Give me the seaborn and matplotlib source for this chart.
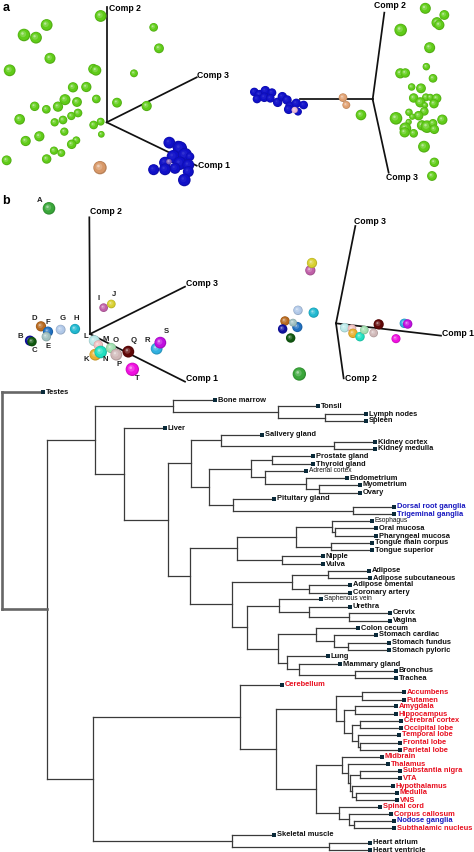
import matplotlib
matplotlib.use("Agg")
import matplotlib.pyplot as plt
import pandas as pd
import seaborn as sns

W, H = 474, 852

# panel a, left view
a1_green_x = [302,140,72,108,461,477,150,29,280,288,402,219,259,195,231,289,351,104,174,139,440,59,234,214,189,164,302,281,193,304,118,77,229,215,162,184,140,20]
a1_green_y = [48,75,105,113,82,145,175,211,207,211,220,262,261,299,306,297,308,319,320,328,318,358,339,348,360,367,365,375,395,403,409,423,421,433,452,459,477,481]
a1_green_d = [30,30,32,30,22,25,28,30,26,27,20,26,26,28,25,22,25,24,26,22,26,27,22,21,22,21,20,22,21,17,26,26,20,24,21,20,24,25]
a1_orange_x = [300]
a1_orange_y = [503]
a1_orange_d = [34]
a1_blue_x = [508,535,540,520,555,495,540,570,565,525,495,461,565,553]
a1_blue_y = [428,440,445,470,465,488,490,470,495,505,508,509,515,540]
a1_blue_d = [30,30,36,34,36,30,34,22,30,28,30,28,28,32]
a1_pink_x = [507]
a1_pink_y = [485]
a1_pink_d = [14]

# panel a, right view
a2_green_x = [565,622,600,607,491,578,568,490,505,588,524,552,530,567,580,599,550,591,564,562,516,545,526,477,616,515,555,570,588,505,503,592,530,561,592,585,372]
a2_green_y = [25,45,68,75,90,143,200,220,219,235,261,265,294,292,292,295,307,311,316,334,337,347,350,355,359,366,376,380,370,385,397,388,400,440,487,528,345]
a2_green_d = [28,25,28,26,32,28,19,26,24,22,19,25,24,20,18,24,26,24,16,22,19,24,16,32,26,16,26,32,22,30,26,24,22,30,24,25,27]
a2_orange_x = [318,328]
a2_orange_y = [293,315]
a2_orange_d = [22,20]
a2_blue_x = [52,68,85,105,60,82,100,122,136,150,160,155,178,200,183]
a2_blue_y = [276,285,272,278,297,292,295,307,290,300,320,328,310,315,335]
a2_blue_d = [22,26,24,22,22,24,22,24,24,24,26,24,24,22,20]
a2_pink_x = [173]
a2_pink_y = [330]
a2_pink_d = [16]

# panel b, one sphere per sample group
b_colors = ["#3aa63a","#c060a8","#d8d030","#b86a20","#2070c0","#a0c0c0","#b0c8e8","#20b8d0","#1010a0","#105810",
            "#b8e8e8","#f0c0c0","#e8b030","#20e0c0","#a0e0b0","#d0b8b8","#600808","#30b0e0","#c010e0","#f010e0"]
b1_x = [147,311,334,123,144,139,182,225,90,96,283,295,286,302,333,349,385,470,481,397]
b1_y = [55,353,342,409,425,440,419,417,452,455,452,465,494,486,474,494,485,476,458,538]
b1_d = [32,22,22,26,26,24,25,26,26,24,28,24,30,32,26,30,30,30,30,34]
b2_x = [187,220,225,144,181,168,183,230,137,161,323,345,348,369,382,410,425,502,512,477]
b2_y = [552,241,219,393,411,398,361,368,417,444,413,416,430,440,420,429,403,400,402,446]
b2_d = [34,26,26,24,26,20,24,26,24,24,24,22,24,24,22,22,26,24,24,23]

letter_names = ["A","I","J","D","F","E","G","H","B","C","L","M","O","Q","R","S","K","N","P","T"]
letter_x = [118,296,343,103,143,144,189,230,60,103,257,316,348,400,442,500,259,315,357,413]
letter_y = [32,327,313,385,397,468,385,385,439,482,438,449,450,452,452,425,509,509,523,566]

# dendrogram leaves
leaf_names = ["Testes","Bone marrow","Tonsil","Lymph nodes","Spleen","Liver","Salivery gland","Kidney cortex","Kidney medulla",
    "Prostate gland","Thyroid gland","Adrenal cortex","Endometrium","Myometrium","Ovary","Pituitary gland",
    "Dorsal root ganglia","Trigeminal ganglia","Esophagus","Oral mucosa","Pharyngeal mucosa","Tongue main corpus",
    "Tongue superior","Nipple","Vulva","Adipose","Adipose subcutaneous","Adipose omental","Coronary artery",
    "Saphenous vein","Urethra","Cervix","Vagina","Colon cecum","Stomach cardiac","Stomach fundus","Stomach pyloric",
    "Lung","Mammary gland","Bronchus","Trachea","Cerebellum","Accumbens","Putamen","Amygdala","Hippocampus",
    "Cerebral cortex","Occipital lobe","Temporal lobe","Frontal lobe","Parietal lobe","Midbrain","Thalamus",
    "Substantia nigra","VTA","Hypothalamus","Medulla","VNS","Spinal cord","Corpus callosum","Nodose ganglia",
    "Subthalamic nucleus","Skeletal muscle","Heart atrium","Heart ventricle"]
leaf_x = [43,215,318,366,366,165,262,375,375,313,313,306,347,360,360,274,394,394,372,376,376,372,372,323,323,369,370,350,350,
    321,350,390,390,358,376,389,389,328,340,396,396,282,404,404,396,396,401,401,399,400,400,382,388,400,400,393,397,397,380,391,394,394,274,370,370]
leaf_y = [392,400,406,414,421,428,435,442,449,456,464,471,478,485,493,499,507,514,521,528,536,543,550,556,564,571,578,585,593,
    599,607,613,621,628,635,643,650,656,664,671,678,685,692,700,706,714,721,728,735,743,750,757,764,771,778,786,793,800,807,814,821,828,835,843,850]

red_labels = ["Cerebellum","Accumbens","Putamen","Amygdala","Hippocampus","Cerebral cortex","Occipital lobe","Temporal lobe",
    "Frontal lobe","Parietal lobe","Midbrain","Thalamus","Substantia nigra","VTA","Hypothalamus","Medulla","VNS",
    "Spinal cord","Corpus callosum","Subthalamic nucleus"]
blue_labels = ["Dorsal root ganglia","Trigeminal ganglia","Nodose ganglia"]
thin_labels = ["Adrenal cortex","Esophagus","Saphenous vein"]

# clades: (x of the joining branch, upper child, lower child)
lymphoid = (173.5, "Bone marrow", (278.5, "Tonsil", (325, "Lymph nodes", "Spleen")))
secretory = (221, "Salivery gland", (334, "Kidney cortex", "Kidney medulla"))
repro = (251, (272, "Prostate gland", "Thyroid gland"),
         (265, "Adrenal cortex", (306, "Endometrium", (319, "Myometrium", "Ovary"))))
ganglia = (233.5, "Pituitary gland", (353, "Dorsal root ganglia", "Trigeminal ganglia"))
glands = (191, secretory, (209, repro, ganglia))
oral = (296, (332, "Esophagus", (335, "Oral mucosa", "Pharyngeal mucosa")), (331, "Tongue main corpus", "Tongue superior"))
epithelia = (237, oral, (282, "Nipple", "Vulva"))
adipose = (292, (328, "Adipose", "Adipose subcutaneous"), (309.5, "Adipose omental", "Coronary artery"))
urogenital = (279, "Saphenous vein", (309, "Urethra", (349, "Cervix", "Vagina")))
gut = (316.5, "Colon cecum", (334, "Stomach cardiac", (348, "Stomach fundus", "Stomach pyloric")))
airway = (287, "Lung", (299, "Mammary gland", (355, "Bronchus", "Trachea")))
soft = (232.5, adipose, (247, urogenital, (278.5, gut, airway)))
periphery = (95, lymphoid, (124, "Liver", (168, glands, (190.5, epithelia, soft))))
cortex = (336.5, (362.5, "Accumbens", "Putamen"),
          (344.5, (355, "Amygdala", "Hippocampus"),
           (352, (360, "Cerebral cortex", "Occipital lobe"), (358, "Temporal lobe", (360, "Frontal lobe", "Parietal lobe")))))
brainstem = (316, (342, "Midbrain", (348, "Thalamus", (350, (360, "Substantia nigra", "VTA"),
             (352, "Hypothalamus", (356, "Medulla", "VNS"))))),
             (339, "Spinal cord", (349, "Corpus callosum", (354, "Nodose ganglia", "Subthalamic nucleus"))))
brain = (240, "Cerebellum", (276, cortex, brainstem))
muscle = (232.5, "Skeletal muscle", (329.5, "Heart atrium", "Heart ventricle"))
tree = (2, "Testes", (47, periphery, (93, brain, muscle)))


def mix(col, other, t):
    a = matplotlib.colors.to_rgb(col)
    b = matplotlib.colors.to_rgb(other)
    return matplotlib.colors.to_hex([a[i] * (1 - t) + b[i] * t for i in range(3)])


def spheres(ax, xs, ys, ds, cols, shine=1.0):
    # every ball is a few shrinking discs, lit from the upper left
    rows = []
    for x, y, d, c in zip(xs, ys, ds, cols):
        d = d * 1.18
        layers = [(1.0, mix(c, "black", 0.15)), (0.85, c), (0.5, mix(c, "white", 0.2 * shine)), (0.2, mix(c, "white", 0.55 * shine))]
        for k, col in layers:
            off = (1 - k) * d * 0.15
            rows.append({"x": x - off, "y": y - off, "col": col, "area": (k * d / 3 * 0.72) ** 2})
    df = pd.DataFrame(rows)
    sns.scatterplot(data=df, x="x", y="y", hue="col", palette={c: c for c in df["col"].unique()},
                    s=df["area"].to_numpy(), linewidth=0, legend=False, ax=ax, zorder=3)


def spokes(ax, centre, ends):
    for end in ends:
        sns.lineplot(x=[centre[0], end[0]], y=[centre[1], end[1]], color="#111111", lw=1.25,
                     estimator=None, sort=False, ax=ax, zorder=2)


def panel(top, height, left):
    ax = fig.add_axes([left / W, 1 - (top + height) / H, 237 / W, height / H])
    return ax


def finish(ax, height):
    ax.set_xlim(0, 711)
    ax.set_ylim(height * 3, 0)
    ax.axis("off")


def comp(ax, x, y, s):
    ax.text(x, y, s, fontsize=6.2, fontweight="bold", va="center", ha="left", clip_on=False, zorder=5)


plt.rcParams["font.family"] = ["Liberation Sans", "DejaVu Sans"]
fig = plt.figure(figsize=(W / 100, H / 100), dpi=100)

ax = panel(0, 190, 0)
spokes(ax, (320, 367), [(320, 22), (590, 232), (590, 497)])
spheres(ax, a1_green_x, a1_green_y, a1_green_d, ["#60cc18"] * len(a1_green_x))
spheres(ax, a1_orange_x, a1_orange_y, a1_orange_d, ["#d89868"])
spheres(ax, a1_blue_x, a1_blue_y, a1_blue_d, ["#1010c8"] * len(a1_blue_x), shine=0.25)
spheres(ax, a1_pink_x, a1_pink_y, a1_pink_d, ["#8060c0"])
comp(ax, 328, 25, "Comp 2")
comp(ax, 592, 225, "Comp 3")
comp(ax, 594, 498, "Comp 1")
ax.text(8, 25, "a", fontsize=9, fontweight="bold", va="center")
finish(ax, 190)

ax = panel(0, 190, 237)
spokes(ax, (407, 298), [(190, 298), (442, 38), (455, 518)])
spheres(ax, a2_green_x, a2_green_y, a2_green_d, ["#60cc18"] * len(a2_green_x))
spheres(ax, a2_orange_x, a2_orange_y, a2_orange_d, ["#e0a070"] * 2)
spheres(ax, a2_blue_x, a2_blue_y, a2_blue_d, ["#1010c8"] * len(a2_blue_x), shine=0.25)
spheres(ax, a2_pink_x, a2_pink_y, a2_pink_d, ["#e8b8d8"])
comp(ax, 412, 18, "Comp 2")
comp(ax, 446, 532, "Comp 3")
finish(ax, 190)

ax = panel(190, 200, 0)
spokes(ax, (270, 432), [(268, 82), (555, 290), (555, 575)])
spheres(ax, b1_x, b1_y, b1_d, b_colors)
for name, x, y in zip(letter_names, letter_x, letter_y):
    ax.text(x, y, name, fontsize=5.6, fontweight="bold", color="#222222", ha="center", va="center", zorder=5)
comp(ax, 269, 63, "Comp 2")
comp(ax, 557, 282, "Comp 3")
comp(ax, 558, 565, "Comp 1")
ax.text(8, 32, "b", fontsize=9, fontweight="bold", va="center")
finish(ax, 200)

ax = panel(190, 200, 237)
spokes(ax, (297, 400), [(355, 108), (320, 565), (612, 437)])
spheres(ax, b2_x, b2_y, b2_d, b_colors)
comp(ax, 352, 93, "Comp 3")
comp(ax, 616, 429, "Comp 1")
comp(ax, 323, 564, "Comp 2")
finish(ax, 200)

# dendrogram
ax = fig.add_axes([0, 0, 1, 467 / H])
leaves = pd.DataFrame({"name": leaf_names, "x": leaf_x, "y": leaf_y}).set_index("name")
segs = []


def walk(node):
    if isinstance(node, str):
        return leaves.loc[node, "x"], leaves.loc[node, "y"]
    x, upper, lower = node
    xa, ya = walk(upper)
    xb, yb = walk(lower)
    segs.append((x, x, ya, yb, x))
    segs.append((x, xa, ya, ya, x))
    segs.append((x, xb, yb, yb, x))
    return x, (ya + yb) / 2


walk(tree)
seg_df = pd.DataFrame([{"seg": i, "x": p, "y": q} for i, s in enumerate(segs) for p, q in ((s[0], s[2]), (s[1], s[3]))])
seg_df["root"] = [segs[i][4] == 2 for i in seg_df["seg"]]
sns.lineplot(data=seg_df[~seg_df["root"]], x="x", y="y", units="seg", estimator=None, sort=False,
             color="#3a3a3a", lw=0.9, ax=ax)
sns.lineplot(data=seg_df[seg_df["root"]], x="x", y="y", units="seg", estimator=None, sort=False,
             color="#666666", lw=1.9, ax=ax)
sns.scatterplot(x=leaf_x, y=leaf_y, marker="s", s=6, color="#0a2a3a", linewidth=0, ax=ax, zorder=3)
for name, x, y in zip(leaf_names, leaf_x, leaf_y):
    col = "#e81020" if name in red_labels else "#1818c0" if name in blue_labels else "#111111"
    thin = name in thin_labels
    ax.text(x + 3, y, name, fontsize=4.8 if thin else 5.4, fontweight="normal" if thin else "bold",
            color=col, va="center", ha="left", clip_on=False, zorder=4)
ax.set_xlim(0, W)
ax.set_ylim(H, 385)
ax.axis("off")

fig.savefig("out.png", dpi=100)
